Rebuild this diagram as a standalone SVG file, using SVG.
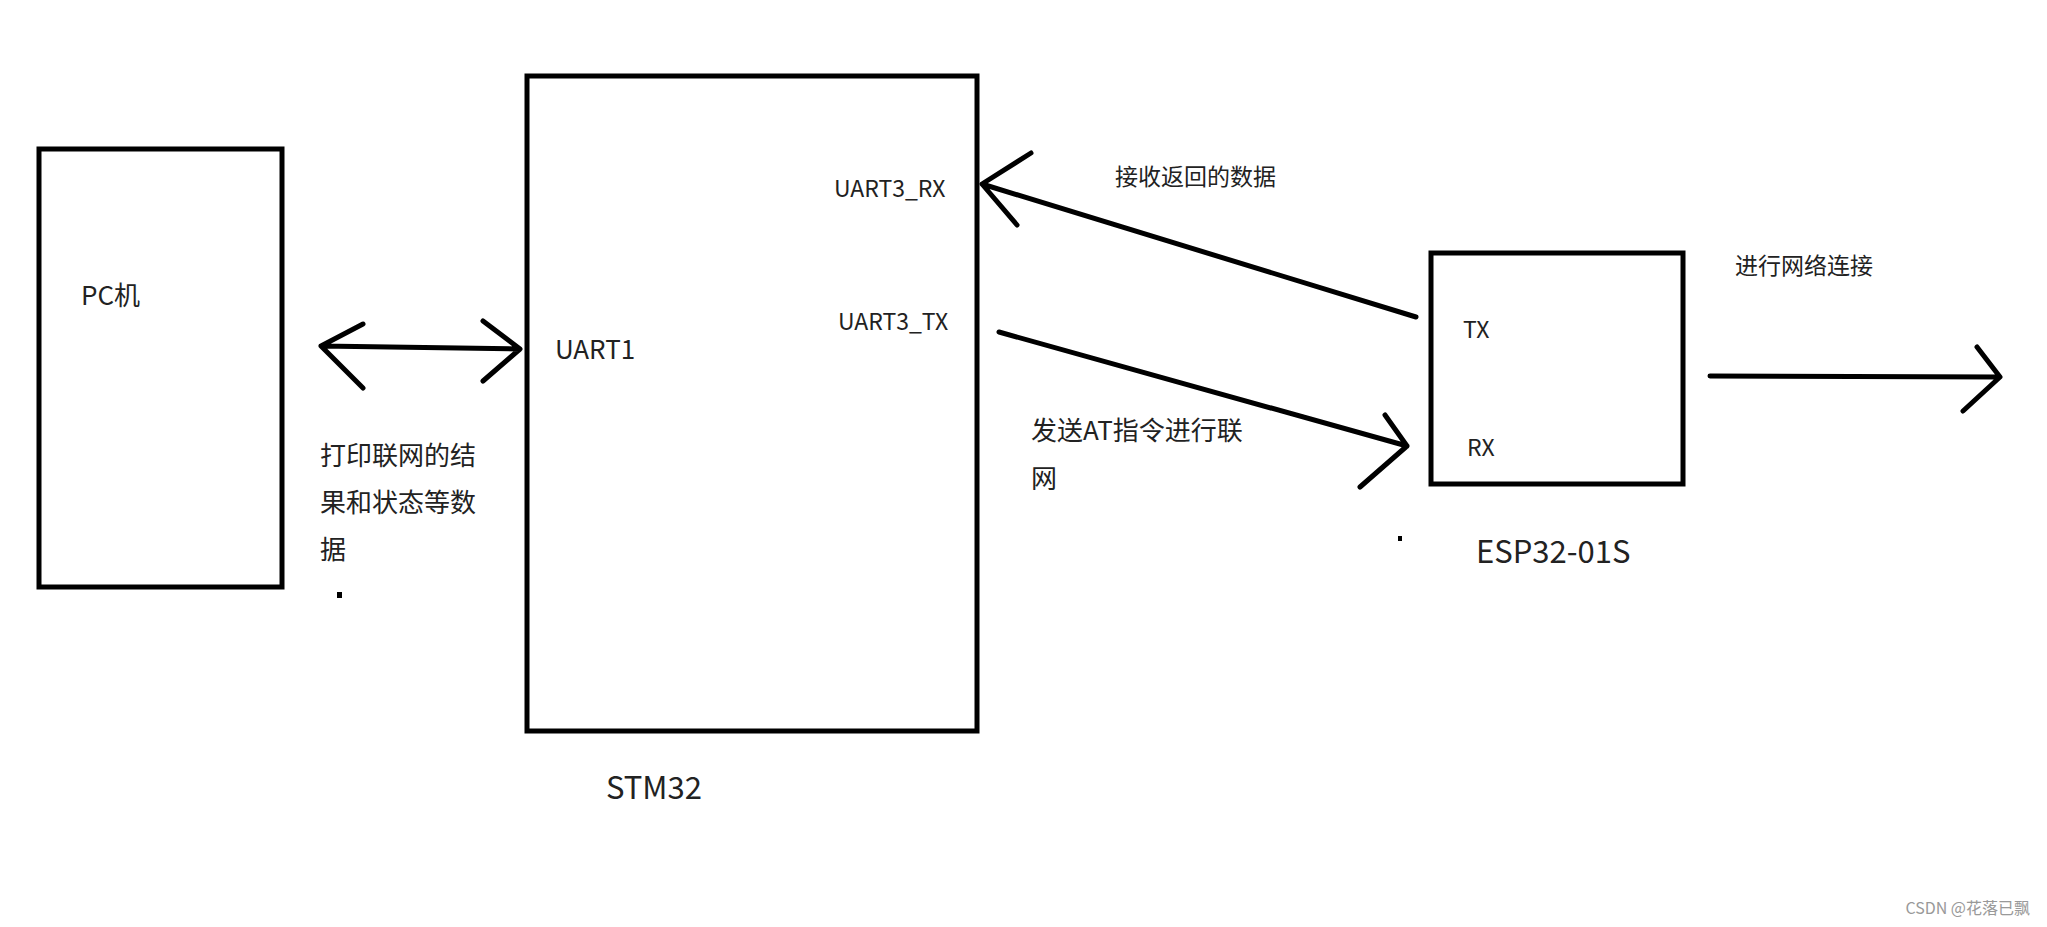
<svg xmlns="http://www.w3.org/2000/svg" width="2047" height="927" viewBox="0 0 2047 927">
<style>
.box{fill:none;stroke:#000;stroke-width:5}
.ln{fill:none;stroke:#000;stroke-width:5;stroke-linecap:round;stroke-linejoin:round}
text{font-family:"Microsoft YaHei","Noto Sans CJK SC","Noto Sans",sans-serif;fill:#222}
.t{font-size:26px}.s{font-size:23px}.b{font-size:31px}
</style>
<rect width="2047" height="927" fill="#fff"/>
<g id="pc"><rect class="box" x="39" y="149" width="243" height="438"/><text class="t" x="81" y="305">PC机</text></g>
<g id="stm32"><rect class="box" x="527" y="76" width="450" height="655"/>
<text class="t" x="555" y="359">UART1</text>
<text class="s" x="834" y="197">UART3_RX</text>
<text class="s" x="838" y="330">UART3_TX</text>
<text class="b" x="606" y="799">STM32</text></g>
<g id="esp"><rect class="box" x="1431" y="253" width="252" height="231"/>
<text class="s" x="1463" y="338">TX</text>
<text class="s" x="1467" y="456">RX</text>
<text class="b" x="1476" y="563">ESP32-01S</text></g>
<g id="connectors">
<path class="ln" d="M321 346 L520 349 M363 324 L321 346 L363 388 M483 321 L520 349 L483 381"/>
<path class="ln" d="M1416 317 L982 184 M1031 153 L982 184 L1017 225"/>
<path class="ln" d="M999 332 L1407 446 M1385 415 L1407 446 L1360 487"/>
<path class="ln" d="M1710 376 L2000 377 M1977 347 L2000 377 L1963 411"/>
</g>
<g id="labels">
<text class="s" x="1115" y="185">接收返回的数据</text>
<text class="s" x="1735" y="274">进行网络连接</text>
<text class="t" x="1031" y="440">发送AT指令进行联</text>
<text class="t" x="1031" y="488">网</text>
<text class="t" x="320" y="465">打印联网的结</text>
<text class="t" x="320" y="512">果和状态等数</text>
<text class="t" x="320" y="559">据</text>
<rect x="337" y="592" width="5" height="6" fill="#000"/>
<rect x="1398" y="536" width="4" height="5" fill="#000"/>
<text x="2030" y="914" text-anchor="end" style="font-size:16px;fill:#999">CSDN @花落已飘</text>
</g>
</svg>
